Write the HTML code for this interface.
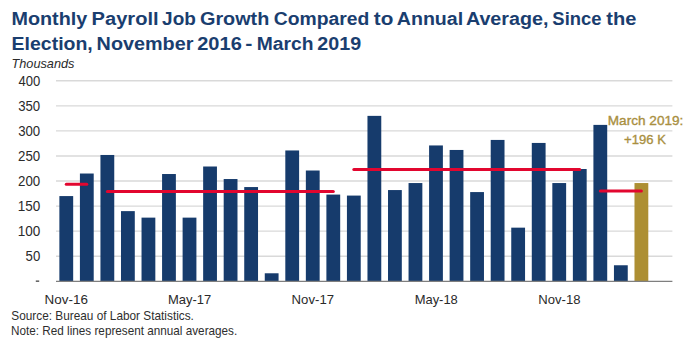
<!DOCTYPE html>
<html><head><meta charset="utf-8"><style>
html,body{margin:0;padding:0;background:#fff;width:700px;height:344px;overflow:hidden}
svg{display:block}
text{font-family:"Liberation Sans",sans-serif}
</style></head><body>
<svg width="700" height="344" viewBox="0 0 700 344">
<rect width="700" height="344" fill="#fff"/>
<text transform="translate(11.49,24.80) scale(1.0414,1)" font-size="19" fill="#1a3e6f" font-weight="bold">Monthly</text>
<text transform="translate(91.57,24.80) scale(1.0576,1)" font-size="19" fill="#1a3e6f" font-weight="bold">Payroll</text>
<text transform="translate(162.10,24.80) scale(0.9994,1)" font-size="19" fill="#1a3e6f" font-weight="bold">Job</text>
<text transform="translate(199.97,24.80) scale(1.0436,1)" font-size="19" fill="#1a3e6f" font-weight="bold">Growth</text>
<text transform="translate(273.79,24.80) scale(1.0176,1)" font-size="19" fill="#1a3e6f" font-weight="bold">Compared</text>
<text transform="translate(373.75,24.80) scale(1.0891,1)" font-size="19" fill="#1a3e6f" font-weight="bold">to</text>
<text transform="translate(396.79,24.80) scale(1.0312,1)" font-size="19" fill="#1a3e6f" font-weight="bold">Annual</text>
<text transform="translate(465.89,24.80) scale(1.0387,1)" font-size="19" fill="#1a3e6f" font-weight="bold">Average,</text>
<text transform="translate(552.35,24.80) scale(0.9702,1)" font-size="19" fill="#1a3e6f" font-weight="bold">Since</text>
<text transform="translate(606.36,24.80) scale(1.0570,1)" font-size="19" fill="#1a3e6f" font-weight="bold">the</text>
<text transform="translate(11.61,49.90) scale(1.0255,1)" font-size="19" fill="#1a3e6f" font-weight="bold">Election,</text>
<text transform="translate(96.59,49.90) scale(1.0417,1)" font-size="19" fill="#1a3e6f" font-weight="bold">November</text>
<text transform="translate(197.22,49.90) scale(1.0556,1)" font-size="19" fill="#1a3e6f" font-weight="bold">2016</text>
<text transform="translate(245.34,49.90) scale(1.1278,1)" font-size="19" fill="#1a3e6f" font-weight="bold">-</text>
<text transform="translate(256.73,49.90) scale(1.0130,1)" font-size="19" fill="#1a3e6f" font-weight="bold">March</text>
<text transform="translate(317.23,49.90) scale(1.0385,1)" font-size="19" fill="#1a3e6f" font-weight="bold">2019</text>
<text transform="translate(11.45,68.20) scale(0.9963,1)" font-size="12.8" fill="#2a2a2a" font-style="italic">Thousands</text>
<line x1="56" y1="256.24" x2="672.4" y2="256.24" stroke="#d9d9d9" stroke-width="1.4"/>
<line x1="56" y1="231.17" x2="672.4" y2="231.17" stroke="#d9d9d9" stroke-width="1.4"/>
<line x1="56" y1="206.11" x2="672.4" y2="206.11" stroke="#d9d9d9" stroke-width="1.4"/>
<line x1="56" y1="181.04" x2="672.4" y2="181.04" stroke="#d9d9d9" stroke-width="1.4"/>
<line x1="56" y1="155.98" x2="672.4" y2="155.98" stroke="#d9d9d9" stroke-width="1.4"/>
<line x1="56" y1="130.91" x2="672.4" y2="130.91" stroke="#d9d9d9" stroke-width="1.4"/>
<line x1="56" y1="105.85" x2="672.4" y2="105.85" stroke="#d9d9d9" stroke-width="1.4"/>
<line x1="56" y1="80.78" x2="672.4" y2="80.78" stroke="#d9d9d9" stroke-width="1.4"/>
<rect x="59.37" y="196.08" width="13.8" height="85.22" fill="#163b6c"/>
<rect x="79.91" y="173.52" width="13.8" height="107.78" fill="#163b6c"/>
<rect x="100.45" y="154.97" width="13.8" height="126.33" fill="#163b6c"/>
<rect x="120.99" y="211.12" width="13.8" height="70.18" fill="#163b6c"/>
<rect x="141.53" y="217.63" width="13.8" height="63.67" fill="#163b6c"/>
<rect x="162.07" y="174.02" width="13.8" height="107.28" fill="#163b6c"/>
<rect x="182.61" y="217.63" width="13.8" height="63.67" fill="#163b6c"/>
<rect x="203.15" y="166.50" width="13.8" height="114.80" fill="#163b6c"/>
<rect x="223.69" y="179.03" width="13.8" height="102.27" fill="#163b6c"/>
<rect x="244.23" y="187.06" width="13.8" height="94.24" fill="#163b6c"/>
<rect x="264.77" y="273.28" width="13.8" height="8.02" fill="#163b6c"/>
<rect x="285.31" y="150.46" width="13.8" height="130.84" fill="#163b6c"/>
<rect x="305.85" y="170.51" width="13.8" height="110.79" fill="#163b6c"/>
<rect x="326.39" y="194.58" width="13.8" height="86.72" fill="#163b6c"/>
<rect x="346.93" y="195.58" width="13.8" height="85.72" fill="#163b6c"/>
<rect x="367.47" y="115.87" width="13.8" height="165.43" fill="#163b6c"/>
<rect x="388.01" y="190.06" width="13.8" height="91.24" fill="#163b6c"/>
<rect x="408.55" y="183.05" width="13.8" height="98.25" fill="#163b6c"/>
<rect x="429.09" y="145.45" width="13.8" height="135.85" fill="#163b6c"/>
<rect x="449.63" y="149.96" width="13.8" height="131.34" fill="#163b6c"/>
<rect x="470.17" y="192.07" width="13.8" height="89.23" fill="#163b6c"/>
<rect x="490.71" y="139.93" width="13.8" height="141.37" fill="#163b6c"/>
<rect x="511.25" y="227.66" width="13.8" height="53.64" fill="#163b6c"/>
<rect x="531.79" y="142.94" width="13.8" height="138.36" fill="#163b6c"/>
<rect x="552.33" y="183.05" width="13.8" height="98.25" fill="#163b6c"/>
<rect x="572.87" y="169.01" width="13.8" height="112.29" fill="#163b6c"/>
<rect x="593.41" y="124.89" width="13.8" height="156.41" fill="#163b6c"/>
<rect x="613.95" y="265.26" width="13.8" height="16.04" fill="#163b6c"/>
<rect x="634.49" y="183.05" width="13.8" height="98.25" fill="#ad8f33"/>
<line x1="56" y1="281.30" x2="672.4" y2="281.30" stroke="#7f7f7f" stroke-width="1.3"/>
<line x1="66.27" y1="184.25" x2="86.81" y2="184.25" stroke="#e2062f" stroke-width="3" stroke-linecap="round"/>
<line x1="107.35" y1="191.42" x2="333.29" y2="191.42" stroke="#e2062f" stroke-width="3" stroke-linecap="round"/>
<line x1="353.83" y1="169.56" x2="579.77" y2="169.56" stroke="#e2062f" stroke-width="3" stroke-linecap="round"/>
<line x1="600.31" y1="190.92" x2="641.39" y2="190.92" stroke="#e2062f" stroke-width="3" stroke-linecap="round"/>
<text transform="translate(25.57,261.04) scale(0.9395,1)" font-size="14" fill="#2a2a2a">50</text>
<text transform="translate(17.67,235.97) scale(0.9653,1)" font-size="14" fill="#2a2a2a">100</text>
<text transform="translate(17.67,210.91) scale(0.9653,1)" font-size="14" fill="#2a2a2a">150</text>
<text transform="translate(18.04,185.84) scale(0.9494,1)" font-size="14" fill="#2a2a2a">200</text>
<text transform="translate(18.04,160.78) scale(0.9494,1)" font-size="14" fill="#2a2a2a">250</text>
<text transform="translate(18.20,135.71) scale(0.9422,1)" font-size="14" fill="#2a2a2a">300</text>
<text transform="translate(18.20,110.65) scale(0.9422,1)" font-size="14" fill="#2a2a2a">350</text>
<text transform="translate(18.41,85.58) scale(0.9328,1)" font-size="14" fill="#2a2a2a">400</text>
<rect x="35.8" y="280.5" width="3.4" height="1.3" fill="#444"/>
<text transform="translate(44.60,304.10) scale(1.0683,1)" font-size="12.6" fill="#2a2a2a">Nov-16</text>
<text transform="translate(167.93,304.10) scale(1.0311,1)" font-size="12.6" fill="#2a2a2a">May-17</text>
<text transform="translate(291.62,304.10) scale(1.0447,1)" font-size="12.6" fill="#2a2a2a">Nov-17</text>
<text transform="translate(414.64,304.10) scale(1.0292,1)" font-size="12.6" fill="#2a2a2a">May-18</text>
<text transform="translate(538.33,304.10) scale(1.0401,1)" font-size="12.6" fill="#2a2a2a">Nov-18</text>
<text transform="translate(11.26,319.70) scale(0.9855,1)" font-size="12" fill="#2e2e2e">Source: Bureau of Labor Statistics.</text>
<text transform="translate(11.04,334.90) scale(0.9778,1)" font-size="12" fill="#2e2e2e">Note: Red lines represent annual averages.</text>
<text transform="translate(607.79,125.30) scale(1.0379,1)" font-size="13.1" fill="#a98f3f" stroke="#a98f3f" stroke-width="0.35">March 2019:</text>
<text transform="translate(624.07,144.20) scale(0.9980,1)" font-size="13.1" fill="#a98f3f" stroke="#a98f3f" stroke-width="0.35">+196 K</text>
</svg>
</body></html>
